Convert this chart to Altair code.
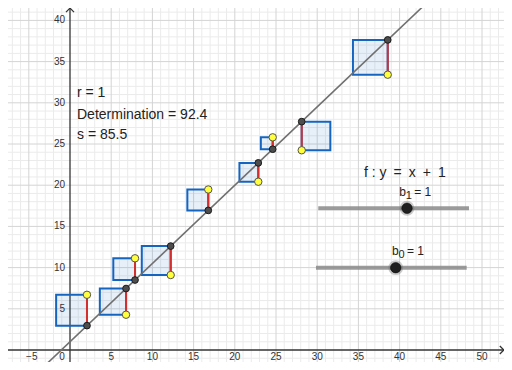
import altair as alt
import pandas as pd

# ---- data ----
x_vals = [2.06, 6.80, 7.89, 12.22, 16.78, 22.85, 24.60, 28.12, 38.56]
y_vals = [6.70, 4.28, 11.13, 9.10, 19.48, 20.42, 25.81, 24.24, 33.41]
square_side = ["left", "left", "left", "left", "left", "left", "left", "right", "left"]
b1 = 0.95
b0 = 1.0
x_ticks = [-5, 5, 10, 15, 20, 25, 30, 35, 40, 45, 50]
y_ticks = [5, 10, 15, 20, 25, 30, 35, 40]
stats_labels = ["r = 1", "Determination = 92.4", "s = 85.5"]
func_label = "f : y\u2002=\u2002x\u2002+\u20021"

# ---- view (GeoGebra graphics window) ----
PX = 8.24
XMIN, XMAX = (8 - 70) / PX, (504 - 70) / PX
YMIN, YMAX = (350 - 362) / PX, (350 - 8) / PX
xs = alt.Scale(domain=[XMIN, XMAX], nice=False, zero=False)
ys = alt.Scale(domain=[YMIN, YMAX], nice=False, zero=False)
FONT = "Liberation Sans"


def X(f="x"):
    return alt.X(f"{f}:Q", scale=xs, axis=None)


def Y(f="y"):
    return alt.Y(f"{f}:Q", scale=ys, axis=None)


# data table
pred = [b1 * x + b0 for x in x_vals]
rows = []
for x, y, p, side in zip(x_vals, y_vals, pred, square_side):
    r = abs(y - p)
    xa, xb = (x - r, x) if side == "left" else (x, x + r)
    rows.append({"x": x, "y": y, "p": p, "xa": xa, "xb": xb})
df = pd.DataFrame(rows)

# grid
minor_x = pd.DataFrame({"v": [v for v in range(-7, 53) if v % 5]})
minor_y = pd.DataFrame({"v": [v for v in range(-1, 42) if v % 5]})
major_x = pd.DataFrame({"v": [v for v in range(-5, 53, 5) if v != 0]})
major_y = pd.DataFrame({"v": [v for v in range(5, 42, 5)]})

grid = [
    alt.Chart(minor_x).mark_rule(color="#ebebeb", strokeWidth=1).encode(x=X("v")),
    alt.Chart(minor_y).mark_rule(color="#ebebeb", strokeWidth=1).encode(y=Y("v")),
    alt.Chart(major_x).mark_rule(color="#d4d4d4", strokeWidth=1).encode(x=X("v")),
    alt.Chart(major_y).mark_rule(color="#d4d4d4", strokeWidth=1).encode(y=Y("v")),
]

axes_df = pd.DataFrame({"x": [0.0], "y": [0.0]})
axes = [
    alt.Chart(axes_df).mark_rule(color="#333333", strokeWidth=1.3).encode(x=X("x")),
    alt.Chart(axes_df).mark_rule(color="#333333", strokeWidth=1.3).encode(y=Y("y")),
    alt.Chart(pd.DataFrame({"x": [XMAX - 0.02], "y": [0.0]})).mark_point(
        shape="M-1,-1L0,0L-1,1", filled=False, size=64, color="#333333", strokeWidth=1.3, opacity=1
    ).encode(x=X(), y=Y()),
    alt.Chart(pd.DataFrame({"x": [0.0], "y": [YMAX - 0.02]})).mark_point(
        shape="M-1,1L0,0L1,1", filled=False, size=64, color="#333333", strokeWidth=1.3, opacity=1
    ).encode(x=X(), y=Y()),
]

xt = pd.DataFrame({
    "x": x_ticks, "y": [0.0] * len(x_ticks),
    "t": [("\u2212" + str(-v)) if v < 0 else str(v) for v in x_ticks],
    "off": [3 if v < 0 else 0 for v in x_ticks],
})
yt = pd.DataFrame({"x": [0.0] * len(y_ticks), "y": y_ticks, "t": [str(v) for v in y_ticks]})
zero = pd.DataFrame({"x": [0.0], "y": [0.0], "t": ["0"]})
ticks = [
    alt.Chart(xt[xt.off == 0]).mark_text(font=FONT, fontSize=10, color="#333333", dy=7, baseline="middle").encode(x=X(), y=Y(), text="t:N"),
    alt.Chart(xt[xt.off != 0]).mark_text(font=FONT, fontSize=10, color="#333333", dx=3, dy=7, baseline="middle").encode(x=X(), y=Y(), text="t:N"),
    alt.Chart(yt).mark_text(font=FONT, fontSize=10, color="#333333", dx=-5, align="right", baseline="middle").encode(x=X(), y=Y(), text="t:N"),
    alt.Chart(zero).mark_text(font=FONT, fontSize=10, color="#333333", dx=-8, dy=7, baseline="middle").encode(x=X(), y=Y(), text="t:N"),
]

base = alt.Chart(df)
squares = base.mark_rect(fill="#1565c0", fillOpacity=0.1, stroke="#1565c0", strokeWidth=2).encode(
    x=X("xa"), x2="xb", y=Y("p"), y2="y"
)
line_df = pd.DataFrame({"x": [XMIN - 2, XMAX + 2], "y": [b1 * (XMIN - 2) + b0, b1 * (XMAX + 2) + b0]})
reg_line = alt.Chart(line_df).mark_line(color="#707070", strokeWidth=1.6, clip=True).encode(x=X(), y=Y())
resid = base.mark_rule(color="#d32f2f", strokeWidth=2).encode(x=X(), y=Y("p"), y2="y")
pred_pts = base.mark_point(filled=True, size=45, fill="#4d4d4d", stroke="#1a1a1a", strokeWidth=1, opacity=1).encode(
    x=X(), y=Y("p")
)
obs_pts = base.mark_point(filled=True, size=55, fill="#ffff40", stroke="#555555", strokeWidth=1, opacity=1).encode(
    x=X(), y=Y()
)

stats_df = pd.DataFrame({"x": [0.85] * 3, "y": [31.22, 28.52, 26.09], "t": stats_labels})
stats = alt.Chart(stats_df).mark_text(font=FONT, fontSize=14, color="#222222", align="left", baseline="middle").encode(
    x=X(), y=Y(), text="t:N"
)
func_df = pd.DataFrame({"x": [35.68], "y": [21.48], "t": [func_label]})
func = alt.Chart(func_df).mark_text(font=FONT, fontSize=14, color="#222222", align="left", baseline="middle").encode(
    x=X(), y=Y(), text="t:N"
)

# sliders
sl_df = pd.DataFrame({
    "xa": [30.13, 29.85], "xb": [48.42, 48.14], "y": [17.2, 9.99], "k": [40.9, 39.53],
    "lx": [39.96, 39.08], "ly": [19.17, 12.0],
    "b": ["b", "b"], "sub": ["1", "0"], "val": ["= 1", "= 1"],
})
sl = alt.Chart(sl_df)
sliders = [
    sl.mark_rule(color="#8a8a8a", strokeWidth=4, opacity=0.85).encode(x=X("xa"), x2="xb", y=Y("y")),
    sl.mark_point(filled=True, size=220, color="#666666", opacity=0.35).encode(x=X("k"), y=Y("y")),
    sl.mark_point(filled=True, size=110, fill="#1f1f1f", stroke="#000000", strokeWidth=0.5, opacity=1).encode(x=X("k"), y=Y("y")),
    sl.mark_text(font=FONT, fontSize=12, color="#222222", align="left", baseline="middle").encode(x=X("lx"), y=Y("ly"), text="b:N"),
    sl.mark_text(font=FONT, fontSize=11, color="#222222", align="left", baseline="middle", dx=6.5, dy=4).encode(x=X("lx"), y=Y("ly"), text="sub:N"),
    sl.mark_text(font=FONT, fontSize=12, color="#222222", align="left", baseline="middle", dx=15).encode(x=X("lx"), y=Y("ly"), text="val:N"),
]

chart = alt.layer(
    *grid, *axes, *ticks, squares, reg_line, resid, pred_pts, obs_pts, stats, func, *sliders
).properties(width=496, height=354, padding=0, autosize="none").configure_view(stroke=None)

chart.save("out.html", embed_options={"renderer": "svg", "actions": False})
